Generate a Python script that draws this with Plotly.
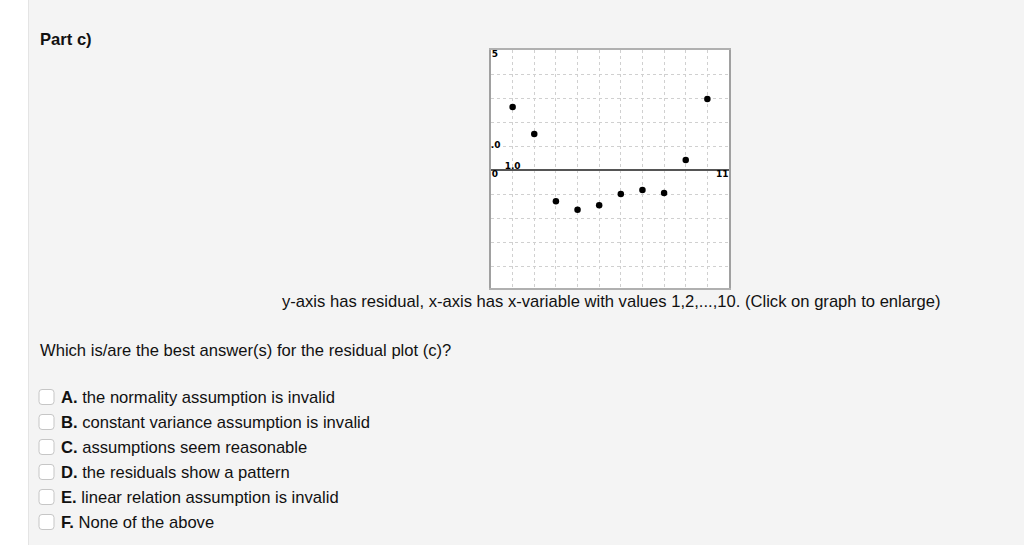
import plotly.graph_objects as go

W, H = 1024, 545

# residual plot data
x_vals = [1, 2, 3, 4, 5, 6, 7, 8, 9, 10]
residuals = [2.63, 1.51, -1.29, -1.64, -1.46, -0.99, -0.82, -0.95, 0.42, 2.96]

# small labels drawn inside the graph box
label_text = ["5", "1.0", "0", "1.0", "11"]
label_x = [0.03, 0.44, 0.03, 1.0, 10.98]
label_y = [4.98, 1.0, 0.0, -0.05, 0.0]
label_pos = ["bottom right", "middle left", "bottom right", "top center", "bottom left"]

options = [
    ("A.", "the normality assumption is invalid"),
    ("B.", "constant variance assumption is invalid"),
    ("C.", "assumptions seem reasonable"),
    ("D.", "the residuals show a pattern"),
    ("E.", "linear relation assumption is invalid"),
    ("F.", "None of the above"),
]


def px(x):
    return x / W


def py(y):
    return 1 - y / H


def rounded_box(x0, y0, x1, y1, r=3):
    # path in paper coords, corners rounded with quadratic curves
    X = lambda v: f"{px(v):.5f}"
    Y = lambda v: f"{py(v):.5f}"
    return (f"M {X(x0 + r)},{Y(y0)} L {X(x1 - r)},{Y(y0)} Q {X(x1)},{Y(y0)} {X(x1)},{Y(y0 + r)} "
            f"L {X(x1)},{Y(y1 - r)} Q {X(x1)},{Y(y1)} {X(x1 - r)},{Y(y1)} "
            f"L {X(x0 + r)},{Y(y1)} Q {X(x0)},{Y(y1)} {X(x0)},{Y(y1 - r)} "
            f"L {X(x0)},{Y(y0 + r)} Q {X(x0)},{Y(y0)} {X(x0 + r)},{Y(y0)} Z")


fig = go.Figure()

fig.add_trace(go.Scatter(x=x_vals, y=residuals, mode='markers',
                         marker=dict(size=6.5, color='black'), hoverinfo='x+y'))

fig.add_trace(go.Scatter(x=label_x, y=label_y, mode='text', text=label_text,
                         textposition=label_pos, cliponaxis=True, hoverinfo='skip',
                         textfont=dict(family='DejaVu Sans', size=9, color='black', weight='bold')))

grid_style = dict(showgrid=True, gridcolor='#d0d0d0', griddash='3px,3px', gridwidth=1,
                  showticklabels=False, ticks='', fixedrange=True, dtick=1, tick0=0)

fig.update_layout(
    width=W, height=H,
    margin=dict(l=0, r=0, t=0, b=0),
    paper_bgcolor='#f4f4f4',
    plot_bgcolor='white',
    showlegend=False,
    font=dict(family='Liberation Sans, Arial, sans-serif', color='#111'),
    xaxis=dict(domain=[px(491), px(729)], range=[0, 11], zeroline=False,
               showline=True, mirror=True, linecolor='#b0b0b0', linewidth=1.5,
               **grid_style),
    yaxis=dict(domain=[py(288), py(50)], range=[-4.9, 5],
               zeroline=True, zerolinecolor='#555555', zerolinewidth=1.5,
               showline=True, mirror=True, linecolor='#a0a0a0', linewidth=1.5,
               **grid_style),
)

shapes = [
    # white strip on the left of the page
    dict(type='rect', xref='paper', yref='paper', x0=0, x1=px(28), y0=0, y1=1,
         fillcolor='white', line=dict(width=0), layer='below'),
    dict(type='line', xref='paper', yref='paper', x0=px(28.5), x1=px(28.5), y0=0, y1=1,
         line=dict(color='#e4e4e4', width=1)),
]

FS = 16.6
annotations = [
    dict(text='<b>Part c)</b>', x=px(38), y=py(39), xanchor='left', yanchor='middle',
         font=dict(size=FS, color='#111')),
    dict(text='y-axis has residual, x-axis has x-variable with values 1,2,...,10. (Click on graph to enlarge)',
         x=px(611), y=py(301), xanchor='center', yanchor='middle', font=dict(size=FS)),
    dict(text='Which is/are the best answer(s) for the residual plot (c)?',
         x=px(38), y=py(350), xanchor='left', yanchor='middle', font=dict(size=FS)),
]

row_y = 397
for letter, txt in options:
    shapes.append(dict(type='path', xref='paper', yref='paper',
                       path=rounded_box(39, row_y - 7.5, 54, row_y + 7.5),
                       fillcolor='white', line=dict(color='#c6c6c6', width=1)))
    annotations.append(dict(text=f'<b>{letter}</b> {txt}', x=px(59), y=py(row_y),
                            xanchor='left', yanchor='middle', font=dict(size=FS)))
    row_y += 25

for a in annotations:
    a.update(xref='paper', yref='paper', showarrow=False)

fig.update_layout(shapes=shapes, annotations=annotations)

# drop the browser's default body margin so the figure fills the window
fig.write_html("out.html", config={'displayModeBar': False},
               post_script="document.body.style.margin='0';")
